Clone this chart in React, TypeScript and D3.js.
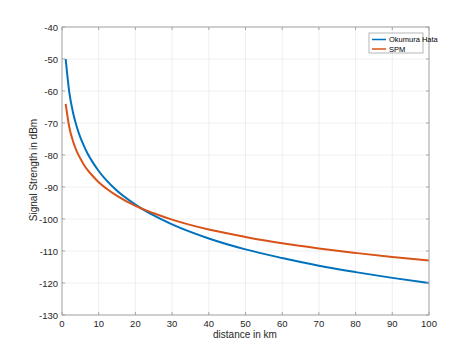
import React from 'react';
import * as d3 from 'd3';

// distance samples (km) and readings (dBm)
const distance = [1, 2, 3, 4, 5, 6, 7, 8, 10, 12, 15, 20, 25, 30, 40, 50, 60, 70, 80, 90, 100];
const okumuraHata = [-50, -60.5, -66.7, -71.1, -74.5, -77.2, -79.6, -81.6, -85, -87.8, -91.2, -95.5, -98.9, -101.7, -106.1, -109.5, -112.2, -114.6, -116.6, -118.4, -120];
const spm = [-64, -71.4, -75.7, -78.8, -81.1, -83.1, -84.7, -86.1, -88.5, -90.4, -92.8, -95.9, -98.2, -100.2, -103.3, -105.6, -107.6, -109.2, -110.6, -111.9, -113];
const xTicks = [0, 10, 20, 30, 40, 50, 60, 70, 80, 90, 100];
const yTicks = [-130, -120, -110, -100, -90, -80, -70, -60, -50, -40];

const series = [
  { name: 'Okumura Hata', values: okumuraHata, color: '#0072BD' },
  { name: 'SPM', values: spm, color: '#D95319' },
];

export default function App() {
  const width = 474, height = 354;
  const left = 62, right = 429, top = 27, bottom = 315;
  const x = d3.scaleLinear().domain([0, 100]).range([left, right]);
  const y = d3.scaleLinear().domain([-130, -40]).range([bottom, top]);
  const line = d3.line<number>()
    .x((_, i) => x(distance[i]))
    .y(d => y(d))
    .curve(d3.curveMonotoneX);
  const font = 'Liberation Sans, Arial, Helvetica, sans-serif';

  return (
    <svg width={width} height={height}
      style={{ position: 'absolute', left: 0, top: 0, background: '#fff' }}
      fontFamily={font}>
      <rect x={0} y={0} width={width} height={height} fill="#fff" />
      {xTicks.map(t => (
        <line key={'gx' + t} x1={x(t)} x2={x(t)} y1={top} y2={bottom} stroke="#ebebeb" strokeWidth={0.8} />
      ))}
      {yTicks.map(t => (
        <line key={'gy' + t} x1={left} x2={right} y1={y(t)} y2={y(t)} stroke="#ebebeb" strokeWidth={0.8} />
      ))}
      {series.map(s => (
        <path key={s.name} d={line(s.values) || ''} fill="none" stroke={s.color} strokeWidth={2} />
      ))}
      <rect x={left} y={top} width={right - left} height={bottom - top} fill="none" stroke="#a6a6a6" strokeWidth={1} />
      {xTicks.map(t => (
        <g key={'tx' + t}>
          <line x1={x(t)} x2={x(t)} y1={bottom} y2={bottom - 3} stroke="#a6a6a6" />
          <line x1={x(t)} x2={x(t)} y1={top} y2={top + 3} stroke="#a6a6a6" />
          <text x={x(t)} y={bottom + 12} fontSize={9.5} fill="#262626" textAnchor="middle">{t}</text>
        </g>
      ))}
      {yTicks.map(t => (
        <g key={'ty' + t}>
          <line x1={left} x2={left + 3} y1={y(t)} y2={y(t)} stroke="#a6a6a6" />
          <line x1={right} x2={right - 3} y1={y(t)} y2={y(t)} stroke="#a6a6a6" />
          <text x={left - 4} y={y(t) + 3.5} fontSize={9.5} fill="#262626" textAnchor="end">{t}</text>
        </g>
      ))}
      <text x={245} y={337.5} fontSize={10} fill="#262626" textAnchor="middle">distance in km</text>
      <text transform={`translate(36.5,170) rotate(-90)`} fontSize={10} fill="#262626" textAnchor="middle">Signal Strength in dBm</text>
      <g>
        <rect x={369} y={33} width={54} height={20} fill="#fff" stroke="#a6a6a6" strokeWidth={0.8} />
        {series.map((s, i) => (
          <g key={'lg' + s.name}>
            <line x1={372} x2={386} y1={39.5 + i * 9.5} y2={39.5 + i * 9.5} stroke={s.color} strokeWidth={1.5} />
            <text x={389} y={42.3 + i * 9.5} fontSize={7.5} fill="#000">{s.name}</text>
          </g>
        ))}
      </g>
    </svg>
  );
}
